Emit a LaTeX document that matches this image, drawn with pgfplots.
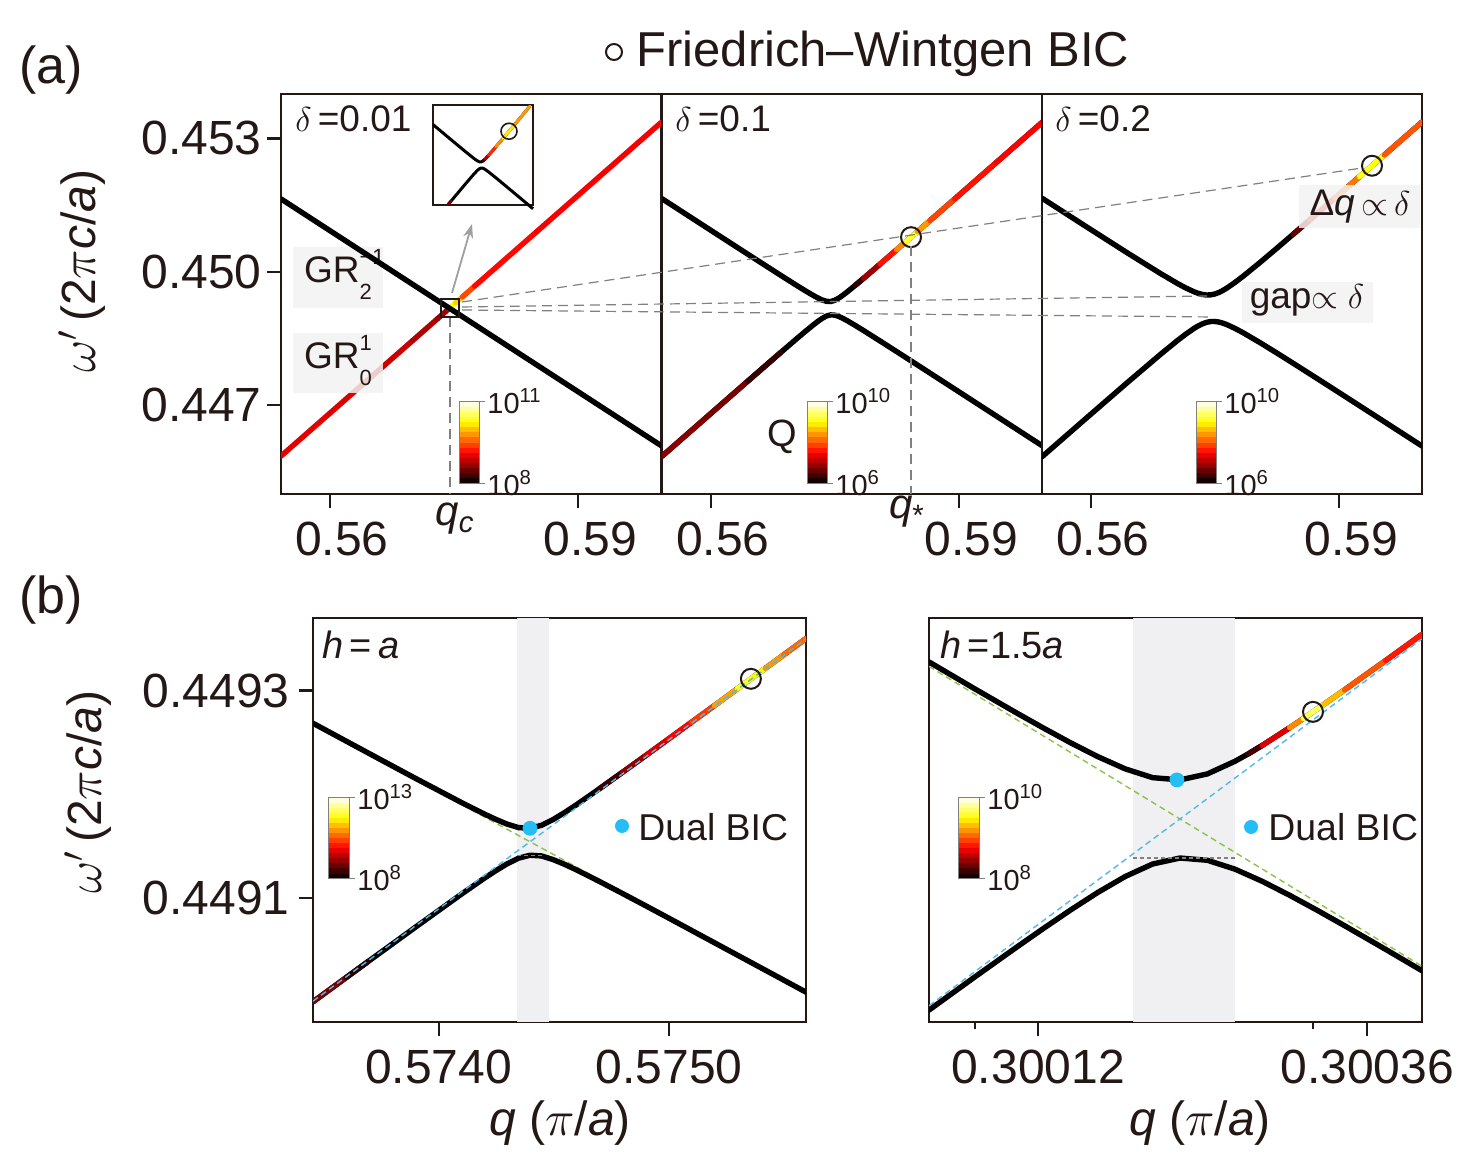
\documentclass[border=0pt]{standalone}
\usepackage{pgfplots}
\pgfplotsset{compat=1.18}
\usepackage{pgfplotstable}
\usepackage{fontspec}
\setmainfont{Liberation Sans}
\usetikzlibrary{arrows.meta}

\definecolor{ink}{RGB}{35,24,21}
\definecolor{dashgray}{RGB}{128,128,128}
\definecolor{bandgray}{RGB}{240,240,242}
\definecolor{boxgray}{RGB}{242,242,242}
\definecolor{bicblue}{RGB}{35,190,245}
\definecolor{asymblue}{RGB}{80,185,235}
\definecolor{asymgreen}{RGB}{140,195,70}

\newcommand\fs[1]{\fontsize{#1}{#1}\selectfont}
% label with a stacked superscript and subscript
\newcommand\stk[3]{#1\rlap{\raisebox{9pt}{\fs{11}#2}}\raisebox{-8.5pt}{\fs{11}#3}}

\pgfplotsset{
  colormap={qhot}{rgb255(0cm)=(0,0,0) rgb255(3cm)=(255,0,0) rgb255(6cm)=(255,255,0) rgb255(8cm)=(255,255,255)},
  band/.style={black, line width=2.7pt, line join=round, line cap=round},
  qline/.style={mesh, point meta=explicit, line width=2.7pt, line cap=round, shader=flat mean},
  fw/.style={only marks, mark=o, mark size=5pt, mark options={line width=1pt, draw=ink}},
  dispaxis/.style={scale only axis, anchor=south west,
    axis line style={ink, line width=1.1pt}, tick style={ink, line width=1.1pt},
    tick align=outside, tick pos=left, major tick length=7pt,
    tick label style={font=\fs{24}, text=ink},
    xticklabel style={anchor=north, inner sep=0pt, yshift=-7pt},
    yticklabel style={anchor=east, inner sep=0pt},
    colormap name=qhot},
  cbar/.style={scale only axis, anchor=south west, width=10pt, height=41pt,
    xmin=0, xmax=1, ymin=0, ymax=1, point meta min=0, point meta max=1,
    colormap name=qhot, xtick=\empty, ytick={0,1}, ytick pos=right, yticklabel pos=right,
    tick align=outside, major tick length=3pt,
    axis line style={gray, line width=0.4pt}, tick style={gray, line width=0.4pt},
    yticklabel style={font=\fs{14.5}, text=ink, inner sep=1pt}, axis on top},
}

% colour scale samples shared by all Q colour bars
\pgfplotstableread{
x y
0 0
1 0
0 0.0625
1 0.0625
0 0.125
1 0.125
0 0.1875
1 0.1875
0 0.25
1 0.25
0 0.3125
1 0.3125
0 0.375
1 0.375
0 0.4375
1 0.4375
0 0.5
1 0.5
0 0.5625
1 0.5625
0 0.625
1 0.625
0 0.6875
1 0.6875
0 0.75
1 0.75
0 0.8125
1 0.8125
0 0.875
1 0.875
0 0.9375
1 0.9375
0 1
1 1
}\cbdata

\begin{document}
\begin{tikzpicture}
\useasboundingbox (0,0) rectangle (741pt,583.5pt);

% ---------------- (a) delta = 0.01 ----------------
\begin{axis}[dispaxis, at={(140.5pt,336.5pt)}, width=190pt, height=200pt,
  xmin=0.5541, xmax=0.6, ymin=0.445, ymax=0.454,
  xtick={0.56,0.59}, xticklabels={0.56,0.59}, xticklabel style={xshift=6pt},
  ytick={0.447,0.450,0.453}, yticklabels={0.447,0.450,0.453}, yticklabel style={xshift=-2.5pt},
  point meta min=8, point meta max=11]
\addplot[qline] table[meta index=2] {
0.5541 0.445853 9.0
0.5600 0.446817 9.0
0.5650 0.447635 8.95
0.5700 0.448452 8.85
0.5730 0.448943 8.7
0.5744 0.449172 8.7
0.5745 0.449188 10.2
0.5752 0.449303 10.4
0.5760 0.449433 9.7
0.5775 0.449679 9.2
0.5850 0.450905 9.1
0.6000 0.453357 9.1
};
\fill[boxgray, fill opacity=0.85] (rel axis cs:0.032,0.465) rectangle (rel axis cs:0.268,0.6175);
\fill[boxgray, fill opacity=0.85] (rel axis cs:0.032,0.2525) rectangle (rel axis cs:0.268,0.4025);
\node[font=\fs{18.5}, text=ink] at (rel axis cs:0.15,0.548) {\stk{GR}{−1}{2}};
\node[font=\fs{18.5}, text=ink] at (rel axis cs:0.15,0.333) {\stk{GR}{1}{0}};
\addplot[band] coordinates {(0.5541,0.45164) (0.6,0.44609)};
\end{axis}

% ---------------- (a) delta = 0.1 ----------------
\begin{axis}[dispaxis, at={(331pt,336.5pt)}, width=190pt, height=200pt,
  xmin=0.5541, xmax=0.6, ymin=0.445, ymax=0.454,
  xtick={0.56,0.59}, xticklabels={0.56,0.59}, xticklabel style={xshift=6pt},
  ytick=\empty, point meta min=6, point meta max=10]
\addplot[band] table {
0.5541 0.4516442
0.55945 0.4509988
0.56445 0.4503969
0.56845 0.4499185
0.57045 0.4496830
0.57145 0.4495683
0.57245 0.4494589
0.57295 0.4494088
0.57345 0.4493654
0.57395 0.4493353
0.57445 0.4493300
0.57495 0.4493567
0.57545 0.4494080
0.57595 0.4494728
0.57645 0.4495441
0.57745 0.4496961
0.57845 0.4498534
0.58045 0.4501741
0.58245 0.4504979
0.58418 0.4507789
0.58645 0.4511486
0.58945 0.4516378
0.59445 0.4524539
0.6000 0.4533605
};
\addplot[band] table {
0.5541 0.4458488
0.55945 0.4467222
0.56445 0.4475371
0.56845 0.4481859
0.57045 0.4485066
0.57145 0.4486639
0.57245 0.4488159
0.57295 0.4488872
0.57345 0.4489520
0.57395 0.4490033
0.57445 0.4490300
0.57495 0.4490247
0.57545 0.4489946
0.57595 0.4489512
0.57645 0.4489011
0.57745 0.4487917
0.57845 0.4486770
0.58045 0.4484415
0.58245 0.4482029
0.58418 0.4479955
0.58645 0.4477226
0.58945 0.4473612
0.59445 0.4467581
0.6000 0.4460879
};
\addplot[qline] table[meta index=2] {
0.57745 0.4496961 6.0
0.57845 0.4498534 6.6
0.58045 0.4501741 7.3
0.58245 0.4504979 7.9
0.58345 0.4506603 8.7
0.58418 0.4507789 9.6
0.58495 0.4509043 8.7
0.58645 0.4511486 8.1
0.58945 0.4516378 7.7
0.59445 0.4524539 7.5
0.6000 0.4533605 7.5
};
\addplot[qline] table[meta index=2] {
0.5541 0.4458488 6.8
0.55945 0.4467222 6.8
0.56445 0.4475371 6.6
0.56845 0.4481859 6.0
};
\addplot[fw] coordinates {(0.58418,0.4507789)};
\end{axis}

% ---------------- (a) delta = 0.2 ----------------
\begin{axis}[dispaxis, at={(521pt,336.5pt)}, width=190pt, height=200pt,
  xmin=0.5541, xmax=0.6, ymin=0.445, ymax=0.454,
  xtick={0.56,0.59}, xticklabels={0.56,0.59}, xticklabel style={xshift=6pt},
  ytick=\empty, point meta min=6, point meta max=10]
\addplot[band] table {
0.5541 0.4516558
0.55945 0.4510145
0.56445 0.4504203
0.56845 0.4499566
0.57045 0.4497379
0.57145 0.4496376
0.57245 0.4495508
0.57295 0.4495161
0.57345 0.4494907
0.57395 0.4494776
0.57445 0.4494800
0.57495 0.4494990
0.57545 0.4495333
0.57595 0.4495801
0.57645 0.4496360
0.57745 0.4497654
0.57845 0.4499083
0.58045 0.4502122
0.58245 0.4505269
0.58445 0.4508463
0.58645 0.4511682
0.58945 0.4516535
0.59245 0.4521405
0.59395 0.4523845
0.59545 0.4526285
0.6000 0.4533698
};
\addplot[band] table {
0.5541 0.4458372
0.55945 0.4467065
0.56445 0.4475137
0.56845 0.4481478
0.57045 0.4484517
0.57145 0.4485946
0.57245 0.4487240
0.57295 0.4487799
0.57345 0.4488267
0.57395 0.4488610
0.57445 0.4488800
0.57495 0.4488824
0.57545 0.4488693
0.57595 0.4488439
0.57645 0.4488092
0.57745 0.4487224
0.57845 0.4486221
0.58045 0.4484034
0.58245 0.4481739
0.58445 0.4479397
0.58645 0.4477030
0.58945 0.4473455
0.59445 0.4467462
0.6000 0.4460786
};
\addplot[qline] table[meta index=2] {
0.58445 0.4508463 6.0
0.58645 0.4511682 7.2
0.58945 0.4516535 7.8
0.59245 0.4521405 8.6
0.59395 0.4523845 9.6
0.59545 0.4526285 8.4
0.6000 0.4533698 7.6
};
\addplot[fw] coordinates {(0.59396,0.452386)};
\end{axis}

% zoomed view of the crossing at delta = 0.01
\begin{axis}[scale only axis, anchor=south west, at={(216.5pt,481pt)}, width=50pt, height=50pt,
  xmin=-1, xmax=1, ymin=-1, ymax=1, xtick=\empty, ytick=\empty,
  axis line style={ink, line width=0.6pt}, clip=false, axis background/.style={fill=white},
  colormap name=qhot, point meta min=8, point meta max=11]
\addplot[black, line width=1.5pt, line join=round] table {
-1.0 0.6082
-0.64 0.3069
-0.34 0.0578
-0.19 -0.0627
-0.12 -0.1131
-0.08 -0.1346
-0.04 -0.14
0 -0.1202
0.04 -0.0843
0.11 -0.0087
0.26 0.1658
0.40 0.332
0.52 0.4751
0.62 0.5947
0.94 0.9778
};
\addplot[black, line width=1.5pt, line join=round] table {
-0.7 -0.9947
-0.64 -0.9229
-0.34 -0.5658
-0.19 -0.3913
-0.12 -0.3157
-0.08 -0.2798
-0.04 -0.26
0 -0.2654
0.04 -0.2869
0.11 -0.3373
0.26 -0.4578
0.56 -0.7069
1.0 -1.0753
};
\addplot[mesh, point meta=explicit, line width=1.5pt, line cap=round] table[meta index=2] {
0 -0.1202 8.0
0.04 -0.0843 8.6
0.11 -0.0087 9.0
0.26 0.1658 9.6
0.40 0.332 9.9
0.52 0.4751 10.4
0.62 0.5947 9.9
0.94 0.9778 9.7
};
\addplot[mesh, point meta=explicit, line width=1.5pt, line cap=round] table[meta index=2] {
-0.7 -0.9947 8.8
-0.64 -0.9229 8.2
};
\addplot[only marks, mark=o, mark size=4pt, mark options={line width=0.8pt, draw=ink}] coordinates {(0.52,0.4751)};
\end{axis}

% Q colour bars, panel (a)
\begin{axis}[cbar, at={(229.5pt,342pt)}, yticklabels={10\textsuperscript{8},10\textsuperscript{11}}]
\addplot[surf, shader=flat mean, mesh/cols=2, point meta=y] table {\cbdata};
\end{axis}
\begin{axis}[cbar, at={(403.5pt,342pt)}, yticklabels={10\textsuperscript{6},10\textsuperscript{10}}]
\addplot[surf, shader=flat mean, mesh/cols=2, point meta=y] table {\cbdata};
\end{axis}
\begin{axis}[cbar, at={(598pt,342pt)}, yticklabels={10\textsuperscript{6},10\textsuperscript{10}}]
\addplot[surf, shader=flat mean, mesh/cols=2, point meta=y] table {\cbdata};
\end{axis}

% ---------------- (b) h = a : q - 0.574 in 1e-4, omega' - 0.449 in 1e-4 ----------------
\begin{axis}[dispaxis, at={(156.5pt,72.5pt)}, width=246.5pt, height=202pt,
  xmin=-5.45, xmax=15.93, ymin=-0.2, ymax=3.7,
  xtick={0,10}, xticklabels={0.5740,0.5750},
  ytick={1,3}, yticklabels={0.4491,0.4493}, yticklabel style={xshift=-4.5pt},
  point meta min=8, point meta max=13]
\fill[bandgray] (axis cs:3.40,-0.2) rectangle (axis cs:4.78,3.7);
\addplot[asymgreen, line width=0.7pt, dash pattern=on 3pt off 2pt] coordinates {(-5.45,2.678) (15.93,0.093)};
\addplot[band] table {
-5.45 2.684
-3.04 2.395
-1.04 2.156
0.96 1.922
1.96 1.81
2.46 1.758
2.96 1.711
3.46 1.677
3.96 1.67
4.46 1.699
4.96 1.754
5.46 1.822
5.96 1.895
6.96 2.05
7.96 2.209
8.96 2.369
9.96 2.531
10.96 2.693
11.96 2.855
12.96 3.018
13.54 3.113
14.16 3.213
14.96 3.344
15.93 3.502
};
\addplot[band] table {
-5.45 -0.005
-3.04 0.387
-1.04 0.71
0.96 1.03
1.96 1.185
2.46 1.258
2.96 1.326
3.46 1.381
3.96 1.41
4.46 1.403
4.96 1.368
5.46 1.322
5.96 1.27
6.96 1.158
7.96 1.042
8.96 0.924
9.96 0.805
10.96 0.685
11.96 0.565
12.96 0.445
14.96 0.205
15.93 0.088
};
\addplot[qline] table[meta index=2] {
6.96 2.05 8.0
7.96 2.209 8.8
8.96 2.369 9.3
9.96 2.531 9.8
10.96 2.693 10.0
11.96 2.855 10.6
12.96 3.018 11.5
13.54 3.113 12.2
14.16 3.213 11.2
14.96 3.344 10.8
15.93 3.502 10.5
};
\addplot[qline] table[meta index=2] {
-5.45 -0.005 9.2
-4.0 0.231 8.6
-3.04 0.387 8.0
};
\addplot[asymblue, line width=0.7pt, dash pattern=on 3pt off 2pt] coordinates {(-5.45,0.001) (15.93,3.497)};
\draw[dashgray, line width=0.6pt, dash pattern=on 2pt off 1.5pt] (axis cs:3.40,1.41) -- (axis cs:4.55,1.41);
\addplot[only marks, mark=*, mark size=3.5pt, color=bicblue] coordinates {(3.96,1.67)};
\addplot[fw] coordinates {(13.54,3.113)};
\end{axis}

% ---------------- (b) h = 1.5a : q - 0.3 in 1e-5, omega' - 0.449 in 1e-4 ----------------
\begin{axis}[dispaxis, at={(464.5pt,72.5pt)}, width=246.5pt, height=202pt,
  xmin=4.05, xmax=40.0, ymin=-0.2, ymax=3.7,
  xtick={12,36}, xticklabels={0.30012,0.30036},
  extra x ticks={7.4,32.05}, extra x tick labels={}, extra x tick style={major tick length=3.5pt},
  ytick=\empty, point meta min=8, point meta max=10]
\fill[bandgray] (axis cs:18.93,-0.2) rectangle (axis cs:26.36,3.7);
\addplot[asymgreen, line width=0.7pt, dash pattern=on 3pt off 2pt] coordinates {(4.05,3.233) (40.0,0.339)};
\addplot[band] table {
4.05 3.276
7.35 3.019
10.35 2.79
12.35 2.641
14.35 2.497
16.35 2.362
18.35 2.244
20.35 2.159
22.35 2.137
24.35 2.195
26.35 2.316
27.35 2.39
28.35 2.47
30.35 2.641
31.35 2.73
32.05 2.794
32.85 2.867
34.35 3.006
37.35 3.289
40.0 3.543
};
\addplot[band] table {
4.05 -0.085
7.35 0.231
10.35 0.514
12.35 0.699
14.35 0.879
16.35 1.05
18.35 1.204
20.35 1.325
22.35 1.383
24.35 1.361
26.35 1.276
28.35 1.158
30.35 1.023
32.35 0.879
34.35 0.73
37.35 0.501
40.0 0.295
};
\addplot[qline] table[meta index=2] {
27.35 2.39 8.0
28.35 2.47 8.4
30.35 2.641 8.9
31.35 2.73 9.4
32.05 2.794 9.9
32.85 2.867 9.5
34.35 3.006 9.1
37.35 3.289 8.9
40.0 3.543 8.75
};
\addplot[asymblue, line width=0.7pt, dash pattern=on 3pt off 2pt] coordinates {(4.05,-0.043) (40.0,3.499)};
\draw[dashgray, line width=0.6pt, dash pattern=on 2pt off 1.5pt] (axis cs:18.93,1.383) -- (axis cs:26.36,1.383);
\addplot[only marks, mark=*, mark size=3.5pt, color=bicblue] coordinates {(22.13,2.137)};
\addplot[fw] coordinates {(32.05,2.794)};
\end{axis}

% Q colour bars, panel (b)
\begin{axis}[cbar, at={(164pt,144.5pt)}, width=10.5pt, height=40.5pt, yticklabels={10\textsuperscript{8},10\textsuperscript{13}}]
\addplot[surf, shader=flat mean, mesh/cols=2, point meta=y] table {\cbdata};
\end{axis}
\begin{axis}[cbar, at={(479pt,144.5pt)}, width=10.5pt, height=40.5pt, yticklabels={10\textsuperscript{8},10\textsuperscript{10}}]
\addplot[surf, shader=flat mean, mesh/cols=2, point meta=y] table {\cbdata};
\end{axis}

% annotations, positioned in picture units of 0.5pt measured from the top-left corner
\begin{scope}[x=0.5pt, y=-0.5pt, shift={(0pt,583.5pt)}]
  % title and panel letters
  \draw[ink, line width=1pt] (614,52) circle (4pt);
  \node[anchor=base west, inner sep=0pt, font=\fs{24.5}, text=ink] at (636,67) {Friedrich--Wintgen BIC};
  \node[font=\fs{26}, text=ink] at (51,70) {(a)};
  \node[font=\fs{26}, text=ink] at (51,600) {(b)};
  % axis titles
  \node[rotate=90, font=\fs{24}, text=ink] at (82,271) {$\omega'$\,(2$\pi$\textit{c}/\textit{a})};
  \node[rotate=90, font=\fs{24}, text=ink] at (88,792) {$\omega'$\,(2$\pi$\textit{c}/\textit{a})};
  \node[font=\fs{24}, text=ink] at (560,1123) {\textit{q} ($\pi$/\textit{a})};
  \node[font=\fs{24}, text=ink] at (1200,1123) {\textit{q} ($\pi$/\textit{a})};
  % panel (a) guide lines
  \begin{scope}[dashgray, line width=0.6pt, dash pattern=on 5pt off 3pt]
    \draw (462,302) -- (1362,168);
    \draw (462,307) -- (1207,296);
    \draw (462,310) -- (1213,317);
    \draw (450,317) -- (450,494);
    \draw (911,246) -- (911,494);
  \end{scope}
  \draw[ink, line width=0.6pt] (441,299) rectangle (459,317);
  \draw[-{Stealth[length=7pt,width=5pt]}, gray!75, line width=0.9pt] (452,293) -- (472,224);
  % panel (a) labels
  \node[anchor=base west, inner sep=0pt, font=\fs{18.5}, text=ink] at (295,132) {$\delta$\,=0.01};
  \node[anchor=base west, inner sep=0pt, font=\fs{18.5}, text=ink] at (675,132) {$\delta$\,=0.1};
  \node[anchor=base west, inner sep=0pt, font=\fs{18.5}, text=ink] at (1055,132) {$\delta$\,=0.2};
  \node[font=\fs{21}, text=ink] at (455,519) {\textit{q}\textsubscript{\textit{c}}};
  \node[font=\fs{21}, text=ink] at (907,512) {\textit{q}\textsubscript{*}};
  \node[font=\fs{19}, text=ink] at (782,437) {Q};
  \fill[boxgray, fill opacity=0.85] (1299,185) rectangle (1420,228);
  \node[font=\fs{18.5}, text=ink] at (1360,207) {Δ\textit{q}\,$\propto$\,$\delta$};
  \fill[boxgray, fill opacity=0.85] (1242,282) rectangle (1373,323);
  \node[font=\fs{18.5}, text=ink] at (1307,300) {gap$\propto\delta$};
  % panel (b) labels
  \node[anchor=west, inner sep=0pt, font=\fs{19}, text=ink] at (322,645) {\textit{h}\,=\,\textit{a}};
  \node[anchor=west, inner sep=0pt, font=\fs{19}, text=ink] at (940,645) {\textit{h}\,=1.5\textit{a}};
  \fill[bicblue] (622,826) circle (3.5pt);
  \node[anchor=west, inner sep=0pt, font=\fs{18.7}, text=ink] at (638,827) {Dual BIC};
  \fill[bicblue] (1251,827) circle (3.5pt);
  \node[anchor=west, inner sep=0pt, font=\fs{18.7}, text=ink] at (1268,827) {Dual BIC};
\end{scope}
\end{tikzpicture}
\end{document}
